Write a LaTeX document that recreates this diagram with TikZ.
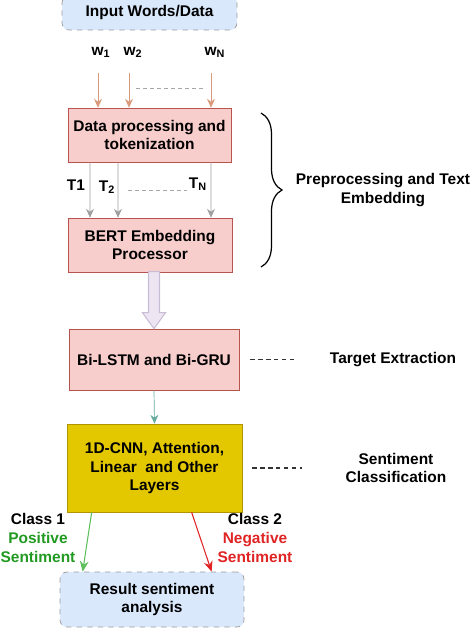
\documentclass[tikz,border=0pt]{standalone}
\usepackage{fontspec}
\setmainfont{Liberation Sans}
\usetikzlibrary{arrows.meta, decorations.pathreplacing}
\definecolor{inblue}{HTML}{DAE8FC}
\definecolor{pinkfill}{HTML}{F8CECC}
\definecolor{pinkline}{HTML}{B85450}
\definecolor{goldfill}{HTML}{E3C800}
\definecolor{goldline}{HTML}{B09500}
\definecolor{salmon}{HTML}{D99A7C}
\definecolor{lavfill}{HTML}{EDE6F2}
\definecolor{lavline}{HTML}{C9BCD6}
\definecolor{teal}{HTML}{67AB9F}
\definecolor{posgreen}{HTML}{5CBF5C}
\definecolor{postext}{HTML}{229A22}
\definecolor{negred}{HTML}{E02424}
\tikzset{
  % common text look for every label
  txt/.style={font=\bfseries\fontsize{8.8}{10.6}\selectfont, align=center, inner sep=0pt},
  % dashed blue boxes for input and result
  io-box/.style={txt, draw=gray!80, dashed, fill=inblue, rounded corners=4pt},
  % the pink processing boxes
  proc-box/.style={txt, draw=pinkline, fill=pinkfill},
  % the yellow classification box
  gold-box/.style={txt, draw=goldline, fill=goldfill},
  % arrows from the words into the first box
  word-arrow/.style={draw=salmon, -{Stealth[length=5pt,width=4.5pt]}},
  % arrows carrying the tokens
  token-arrow/.style={draw=gray!75, -{Stealth[length=5pt,width=4.5pt]}},
  % short dashed separators
  gap-line/.style={draw=gray!70, dash pattern=on 2pt off 2pt},
  % dashed leaders towards the stage names
  stage-line/.style={draw=black!80, line width=0.6pt, dash pattern=on 2.5pt off 2pt},
  % the wide hollow arrow
  hollow/.style={draw=lavline, fill=lavfill, line width=0.6pt}
}

\begin{document}
\begin{tikzpicture}[x=0.02cm, y=-0.02cm]
  \useasboundingbox (0,0) rectangle (474,629);

  % Input and first two boxes
  \node[io-box, minimum width=3.5cm, minimum height=0.68cm] at (149.5,13) (input) {Input Words/Data};
  \node[proc-box, minimum width=3.26cm, minimum height=1.08cm] at (149.5,135) (dp) {Data processing and\\tokenization};
  \node[proc-box, minimum width=3.28cm, minimum height=1.08cm] at (150,245) (bert) {BERT Embedding\\Processor};

  % Word labels and their arrows
  \node[txt] at (101,52) (w1) {w\textsubscript{1}};
  \node[txt] at (133,52) (w2) {w\textsubscript{2}};
  \node[txt] at (215,52) (wn) {w\textsubscript{N}};
  \draw[word-arrow] ([xshift=-1.03cm, yshift=0.7cm]dp.north) -- ([xshift=-1.03cm]dp.north);
  \draw[word-arrow] ([xshift=-0.41cm, yshift=0.7cm]dp.north) -- ([xshift=-0.41cm]dp.north);
  \draw[word-arrow] ([xshift=1.23cm, yshift=0.7cm]dp.north) -- ([xshift=1.23cm]dp.north);
  \draw[gap-line] (136,88) -- (205,88);

  % Token arrows between the pink boxes
  \draw[token-arrow] ([xshift=-1.19cm]dp.south) -- ([xshift=-1.2cm]bert.north);
  \draw[token-arrow] ([xshift=-0.63cm]dp.south) -- ([xshift=-0.64cm]bert.north);
  \draw[token-arrow] ([xshift=1.23cm]dp.south) -- ([xshift=1.22cm]bert.north);
  \node[txt] at (76,185) (t1) {T1};
  \node[txt] at (107,187) (t2) {T\textsubscript{2}};
  \node[txt] at (198,184) (tn) {T\textsubscript{N}};
  \draw[gap-line] (128,190) -- (187,190);

  % Brace with its caption
  \draw[decorate, decoration={brace, amplitude=0.42cm}, line width=0.7pt] (261,113) -- (261,267);
  \node[txt] at (383,190) (prep) {Preprocessing and Text\\Embedding};

  % Target extraction stage
  \node[proc-box, minimum width=3.4cm, minimum height=1.22cm] at (154,359.5) (lstm) {Bi-LSTM and Bi-GRU};
  \draw[hollow] (lstm.north) -- ++(-11.5,-16) -- ++(6,0) -- ++(0,-41) -- ++(11,0) -- ++(0,41) -- ++(6,0) -- cycle;
  \node[txt] at (393,359.5) (target) {Target Extraction};
  \draw[stage-line] ([xshift=0.22cm]lstm.east) -- ([xshift=-0.64cm]lstm.east -| target.west);

  % Classification stage
  \node[gold-box, minimum width=3.5cm, minimum height=1.76cm] at (154.5,468) (cnn) {1D-CNN, Attention,\\Linear~ and Other\\Layers};
  \draw[draw=teal, -{Stealth[length=5pt,width=4.5pt]}] (lstm.south) -- (cnn.north);
  \node[txt] at (396,468) (sentcls) {Sentiment\\Classification};
  \draw[stage-line] ([xshift=0.2cm]cnn.east) -- ([xshift=-0.86cm]cnn.east -| sentcls.west);

  % Result box and the two class arrows
  \node[io-box, minimum width=3.68cm, minimum height=1.1cm] at (152,599.5) (result) {Result sentiment\\analysis};
  \draw[draw=posgreen, line width=0.6pt, -{Stealth[length=6pt,width=5pt]}] ([xshift=0.5cm]cnn.south west) -- ([xshift=0.46cm]result.north west);
  \draw[draw=negred, line width=0.6pt, -{Stealth[length=6pt,width=5pt]}] ([xshift=2.5cm]cnn.south west) -- ([xshift=3.04cm]result.north west);
  \node[txt] at (38,538) (class1) {Class 1\\\textcolor{postext}{Positive}\\\textcolor{postext}{Sentiment}};
  \node[txt] at (255,538) (class2) {Class 2\\\textcolor{negred}{Negative}\\\textcolor{negred}{Sentiment}};

\end{tikzpicture}
\end{document}
